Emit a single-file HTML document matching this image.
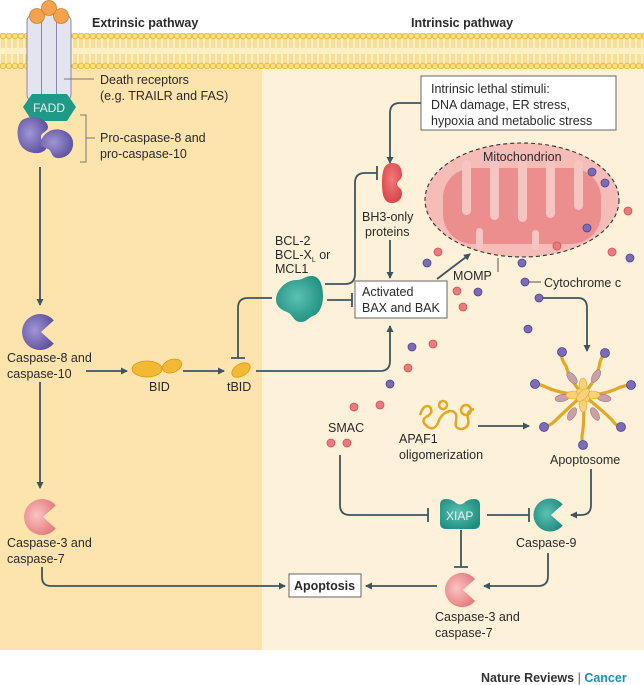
<!DOCTYPE html>
<html><head><meta charset="utf-8"><style>
html,body{margin:0;padding:0;background:#fff;}
svg{display:block;}
text{font-family:"Liberation Sans",sans-serif;font-size:12.5px;fill:#2a2a2a;}
.b{font-weight:bold;}
</style></head><body>
<svg width="644" height="685" viewBox="0 0 644 685" xmlns="http://www.w3.org/2000/svg">
<defs>
<marker id="ar" markerWidth="8" markerHeight="8" refX="6" refY="4" orient="auto" markerUnits="userSpaceOnUse">
<path d="M0,0.5 L7,4 L0,7.5 Z" fill="#3d5560"/></marker>
<pattern id="mem" x="0" y="33" width="6" height="36" patternUnits="userSpaceOnUse">
<rect width="6" height="36" fill="#fdf0c4"/>
<path d="M2,6 V15 M4,6 V15 M2,21 V30 M4,21 V30" stroke="#f0c450" stroke-width="0.8"/>
<circle cx="3" cy="3" r="2.8" fill="#fbdf86" stroke="#ebb52e" stroke-width="0.8"/>
<circle cx="3" cy="33" r="2.8" fill="#fbdf86" stroke="#ebb52e" stroke-width="0.8"/>
</pattern>
<radialGradient id="gp" cx="0.4" cy="0.45" r="0.6"><stop offset="0" stop-color="#9f96d6"/><stop offset="1" stop-color="#6153a0"/></radialGradient>
<radialGradient id="gr" cx="0.4" cy="0.45" r="0.6"><stop offset="0" stop-color="#fbc3c3"/><stop offset="1" stop-color="#e57f80"/></radialGradient>
<radialGradient id="gt" cx="0.45" cy="0.45" r="0.6"><stop offset="0" stop-color="#5cc2b3"/><stop offset="1" stop-color="#1f8e80"/></radialGradient>
<radialGradient id="gb" cx="0.5" cy="0.4" r="0.6"><stop offset="0" stop-color="#f47a7a"/><stop offset="1" stop-color="#d9474a"/></radialGradient>
<path id="pac" d="M13.8,-11.6 A18,18 0 1 0 13.8,11.6 L1,0 Z"/>
</defs>

<rect x="0" y="68" width="262" height="582" fill="#fde4ad"/>
<rect x="262" y="68" width="382" height="582" fill="#fdf1d9"/>
<rect x="0" y="33" width="644" height="36" fill="url(#mem)"/>

<text x="92" y="27" class="b">Extrinsic pathway</text>
<text x="411" y="27" class="b">Intrinsic pathway</text>

<g stroke="#8a8aa8" stroke-width="1" fill="#e4e4f0">
<rect x="27" y="14" width="15" height="88" rx="7.5"/>
<rect x="56" y="14" width="15" height="88" rx="7.5"/>
<rect x="41.5" y="10" width="15" height="92" rx="7.5"/>
</g>
<g fill="#f3a24f" stroke="#d27f2a" stroke-width="0.8">
<circle cx="37" cy="16" r="7.5"/><circle cx="61" cy="16" r="7.5"/><circle cx="49" cy="8" r="7.5"/>
</g>
<polygon points="23,107 32,94 67,94 76,107 67,121 32,121" fill="#1f9a86"/>
<text x="33" y="112" style="fill:#e6f5f1;font-size:12px">FADD</text>
<g fill="url(#gp)">
<path d="M22,120 c12,-7 26,0 26,7 c0,5 -7,5 -7,10 c0,6 7,6 5,12 c-5,7 -21,5 -26,-5 c-4,-9 -3,-19 2,-24Z"/>
<path d="M48,132 c9,-6 24,-1 25,10 c1,10 -7,17 -16,16 c-6,-1 -5,-7 -9,-9 c-5,-2 -8,-2 -7,-7 c1,-5 4,-8 7,-10Z"/>
</g>
<path d="M64,79 H94" stroke="#777" stroke-width="1"/>
<text x="100" y="84">Death receptors</text>
<text x="100" y="100">(e.g. TRAILR  and FAS)</text>
<path d="M80,115 H86 V162 H80 M86,138 H95" stroke="#777" stroke-width="1" fill="none"/>
<text x="100" y="142">Pro-caspase-8 and</text>
<text x="100" y="158">pro-caspase-10</text>

<g stroke="#3d5560" stroke-width="1.8" fill="none">
<path d="M40,167 V305" marker-end="url(#ar)"/>
<path d="M86,371 H127" marker-end="url(#ar)"/>
<path d="M183,371 H224" marker-end="url(#ar)"/>
<path d="M256,371 H380 Q390,371 390,361 V326" marker-end="url(#ar)"/>
<path d="M272,298 H248 Q238,298 238,308 V358 M231,358 H245"/>
<path d="M325,284 H345 Q355,284 355,274 V183 Q355,173 365,173 H377 M377,166 V180"/>
<path d="M327,300 H352 M352,293 V307"/>
<path d="M421,103 H400 Q390,103 390,113 V163" marker-end="url(#ar)"/>
<path d="M390,240 V278" marker-end="url(#ar)"/>
<path d="M437,279 L470,254" marker-end="url(#ar)"/>
<path d="M535,298 H578 Q587,298 587,308 V351" marker-end="url(#ar)"/>
<path d="M478,426 H529" marker-end="url(#ar)"/>
<path d="M340,455 V505 Q340,515 350,515 H428 M428,508 V522"/>
<path d="M487,515 H529 M529,508 V522"/>
<path d="M591,469 V505 Q591,515 581,515 H571" marker-end="url(#ar)"/>
<path d="M461,530 V567 M454,567 H468"/>
<path d="M548,553 V576 Q548,586 538,586 H484" marker-end="url(#ar)"/>
<path d="M437,586 H366" marker-end="url(#ar)"/>
<path d="M42,567 V577 Q42,586 51,586 H285" marker-end="url(#ar)"/>
<path d="M40,382 V488" marker-end="url(#ar)"/>
</g>
<path d="M498,258 V272 M528,282 H541" stroke="#555" stroke-width="1"/>

<use href="#pac" transform="translate(40,332)" fill="url(#gp)"/>
<text x="7" y="362">Caspase-8 and</text>
<text x="7" y="378">caspase-10</text>
<use href="#pac" transform="translate(42,517)" fill="url(#gr)"/>
<text x="7" y="547">Caspase-3 and</text>
<text x="7" y="563">caspase-7</text>

<ellipse cx="147" cy="369" rx="15" ry="8" fill="#f3b935" stroke="#d89a1a" stroke-width="0.8"/>
<ellipse cx="172" cy="366" rx="10" ry="6.5" transform="rotate(-20 172 366)" fill="#f3b935" stroke="#d89a1a" stroke-width="0.8"/>
<text x="149" y="391">BID</text>
<ellipse cx="241" cy="370" rx="10" ry="6" transform="rotate(-30 241 370)" fill="#f3b935" stroke="#d89a1a" stroke-width="0.8"/>
<text x="227" y="391">tBID</text>

<rect x="421" y="76" width="195" height="54" fill="#fff" stroke="#666" stroke-width="1"/>
<text x="431" y="93">Intrinsic lethal stimuli:</text>
<text x="431" y="109">DNA damage, ER stress,</text>
<text x="431" y="125">hypoxia and metabolic stress</text>

<path d="M392,163 c8,0 10,6 10,12 c0,5 -5,6 -5,9 c0,3 5,4 5,9 c0,6 -4,10 -10,10 c-7,0 -10,-6 -10,-20 c0,-14 3,-20 10,-20Z" fill="url(#gb)"/>
<text x="362" y="221">BH3-only</text>
<text x="365" y="236">proteins</text>

<text x="275" y="245">BCL-2</text>
<text x="275" y="259">BCL-X<tspan style="font-size:7px" dy="3">L</tspan><tspan dy="-3"> or</tspan></text>
<text x="275" y="273">MCL1</text>
<path d="M276,300 c0,-10 10,-20 20,-20 c8,0 8,-4 16,-4 c8,0 11,10 11,20 c0,10 -4,18 -10,20 c-4,1 -6,6 -12,6 c-8,0 -8,-8 -14,-10 c-6,-2 -11,-6 -11,-12Z" fill="url(#gt)"/>

<rect x="355" y="281" width="92" height="37" fill="#fff" stroke="#666" stroke-width="1"/>
<text x="362" y="296">Activated</text>
<text x="362" y="312">BAX and BAK</text>
<text x="453" y="280">MOMP</text>

<ellipse cx="522" cy="200" rx="97" ry="57" fill="#f6bcb8" stroke="#333" stroke-width="1.1" stroke-dasharray="4,3"/>
<rect x="443" y="168" width="158" height="76" rx="30" fill="#ec8e8d"/>
<g fill="#f7c5c1">
<rect x="462" y="160" width="9" height="55" rx="4.5"/>
<rect x="490" y="160" width="9" height="60" rx="4.5"/>
<rect x="518" y="160" width="9" height="62" rx="4.5"/>
<rect x="546" y="160" width="9" height="58" rx="4.5"/>
<rect x="574" y="160" width="9" height="50" rx="4.5"/>
<rect x="476" y="228" width="7" height="22" rx="3.5"/>
<rect x="532" y="230" width="7" height="20" rx="3.5"/>
</g>
<text x="483" y="161">Mitochondrion</text>

<g fill="#7b6cb8" stroke="#4e4290" stroke-width="0.8">
<circle cx="592" cy="172" r="4"/><circle cx="605" cy="183" r="4"/><circle cx="587" cy="228" r="4"/>
<circle cx="630" cy="258" r="4"/><circle cx="522" cy="263" r="4"/><circle cx="427" cy="263" r="4"/>
<circle cx="478" cy="292" r="4"/><circle cx="525" cy="282" r="4"/><circle cx="539" cy="298" r="4"/>
<circle cx="528" cy="329" r="4"/><circle cx="412" cy="347" r="4"/><circle cx="390" cy="384" r="4"/>
</g>
<g fill="#ea7a7c" stroke="#c95558" stroke-width="0.8">
<circle cx="628" cy="211" r="4"/><circle cx="557" cy="246" r="4"/><circle cx="612" cy="252" r="4"/>
<circle cx="438" cy="252" r="4"/><circle cx="457" cy="291" r="4"/><circle cx="463" cy="307" r="4"/>
<circle cx="433" cy="344" r="4"/><circle cx="408" cy="368" r="4"/><circle cx="354" cy="407" r="4"/>
<circle cx="380" cy="405" r="4"/><circle cx="331" cy="443" r="4"/><circle cx="347" cy="443" r="4"/>
</g>
<text x="544" y="287">Cytochrome c</text>

<g fill="none" stroke="#e3a823" stroke-width="3.2" stroke-linecap="round">
<path d="M583,395 Q570,380 566,366 Q560,358 562,352"/>
<path d="M583,395 Q598,378 600,362 Q602,356 605,353"/>
<path d="M583,395 Q562,394 548,388 Q540,384 535,384"/>
<path d="M583,395 Q605,395 618,388 Q626,385 631,385"/>
<path d="M583,395 Q566,410 556,420 Q550,426 544,427"/>
<path d="M583,395 Q602,410 612,420 Q616,426 621,427"/>
<path d="M583,395 Q585,420 582,436 Q582,442 583,445"/>
</g>
<g fill="#c9a0a8" stroke="#a07a84" stroke-width="0.6">
<ellipse cx="572" cy="378" rx="7" ry="3.5" transform="rotate(50 572 378)"/>
<ellipse cx="596" cy="376" rx="7" ry="3.5" transform="rotate(-60 596 376)"/>
<ellipse cx="604" cy="398" rx="7" ry="3.5" transform="rotate(10 604 398)"/>
<ellipse cx="595" cy="414" rx="7" ry="3.5" transform="rotate(60 595 414)"/>
<ellipse cx="572" cy="414" rx="7" ry="3.5" transform="rotate(-60 572 414)"/>
<ellipse cx="562" cy="398" rx="7" ry="3.5" transform="rotate(-10 562 398)"/>
</g>
<g fill="#fbd27a" stroke="#e3a823" stroke-width="0.6">
<ellipse cx="583" cy="386" rx="4" ry="8"/><ellipse cx="583" cy="404" rx="4" ry="8"/>
<ellipse cx="574" cy="395" rx="8" ry="4"/><ellipse cx="592" cy="395" rx="8" ry="4"/>
<ellipse cx="583" cy="395" rx="8" ry="4" transform="rotate(45 583 395)"/>
<ellipse cx="583" cy="395" rx="8" ry="4" transform="rotate(-45 583 395)"/>
</g>
<g fill="#7b6cb8" stroke="#4e4290" stroke-width="0.8">
<circle cx="562" cy="352" r="4.5"/><circle cx="605" cy="353" r="4.5"/><circle cx="535" cy="384" r="4.5"/>
<circle cx="631" cy="385" r="4.5"/><circle cx="544" cy="427" r="4.5"/><circle cx="621" cy="427" r="4.5"/>
<circle cx="583" cy="445" r="4.5"/>
</g>
<text x="550" y="464">Apoptosome</text>

<g fill="none" stroke="#e3a823" stroke-width="2.5">
<path d="M420,415 q4,-12 10,-8 q4,6 -4,10 q-6,4 2,10 q6,4 10,-4 q3,-10 12,-12 q8,0 6,10 q-2,8 6,8 q8,-2 6,-10 q-2,-8 6,-10"/>
<circle cx="443" cy="405" r="4"/><circle cx="466" cy="410" r="5"/>
</g>
<text x="399" y="443">APAF1</text>
<text x="399" y="459">oligomerization</text>
<text x="328" y="432">SMAC</text>

<path d="M440,505 q0,-6 6,-6 q6,0 10,4 q4,3 8,0 q4,-4 10,-4 q6,0 6,6 v18 q0,6 -6,6 h-28 q-6,0 -6,-6Z" fill="url(#gt)"/>
<text x="446" y="520" style="fill:#e8f6f3;font-size:12px">XIAP</text>
<use href="#pac" transform="translate(550,515) scale(0.92)" fill="url(#gt)"/>
<text x="516" y="547">Caspase-9</text>
<use href="#pac" transform="translate(462,590) scale(0.95)" fill="url(#gr)"/>
<text x="435" y="621">Caspase-3 and</text>
<text x="435" y="637">caspase-7</text>

<rect x="289" y="574" width="72" height="23" fill="#fff" stroke="#666" stroke-width="1"/>
<text x="294" y="590" class="b">Apoptosis</text>

<text x="481" y="682" class="b" style="fill:#333">Nature Reviews <tspan style="font-weight:normal;fill:#555">|</tspan> <tspan style="fill:#1a8fb5">Cancer</tspan></text>
</svg>
</body></html>
